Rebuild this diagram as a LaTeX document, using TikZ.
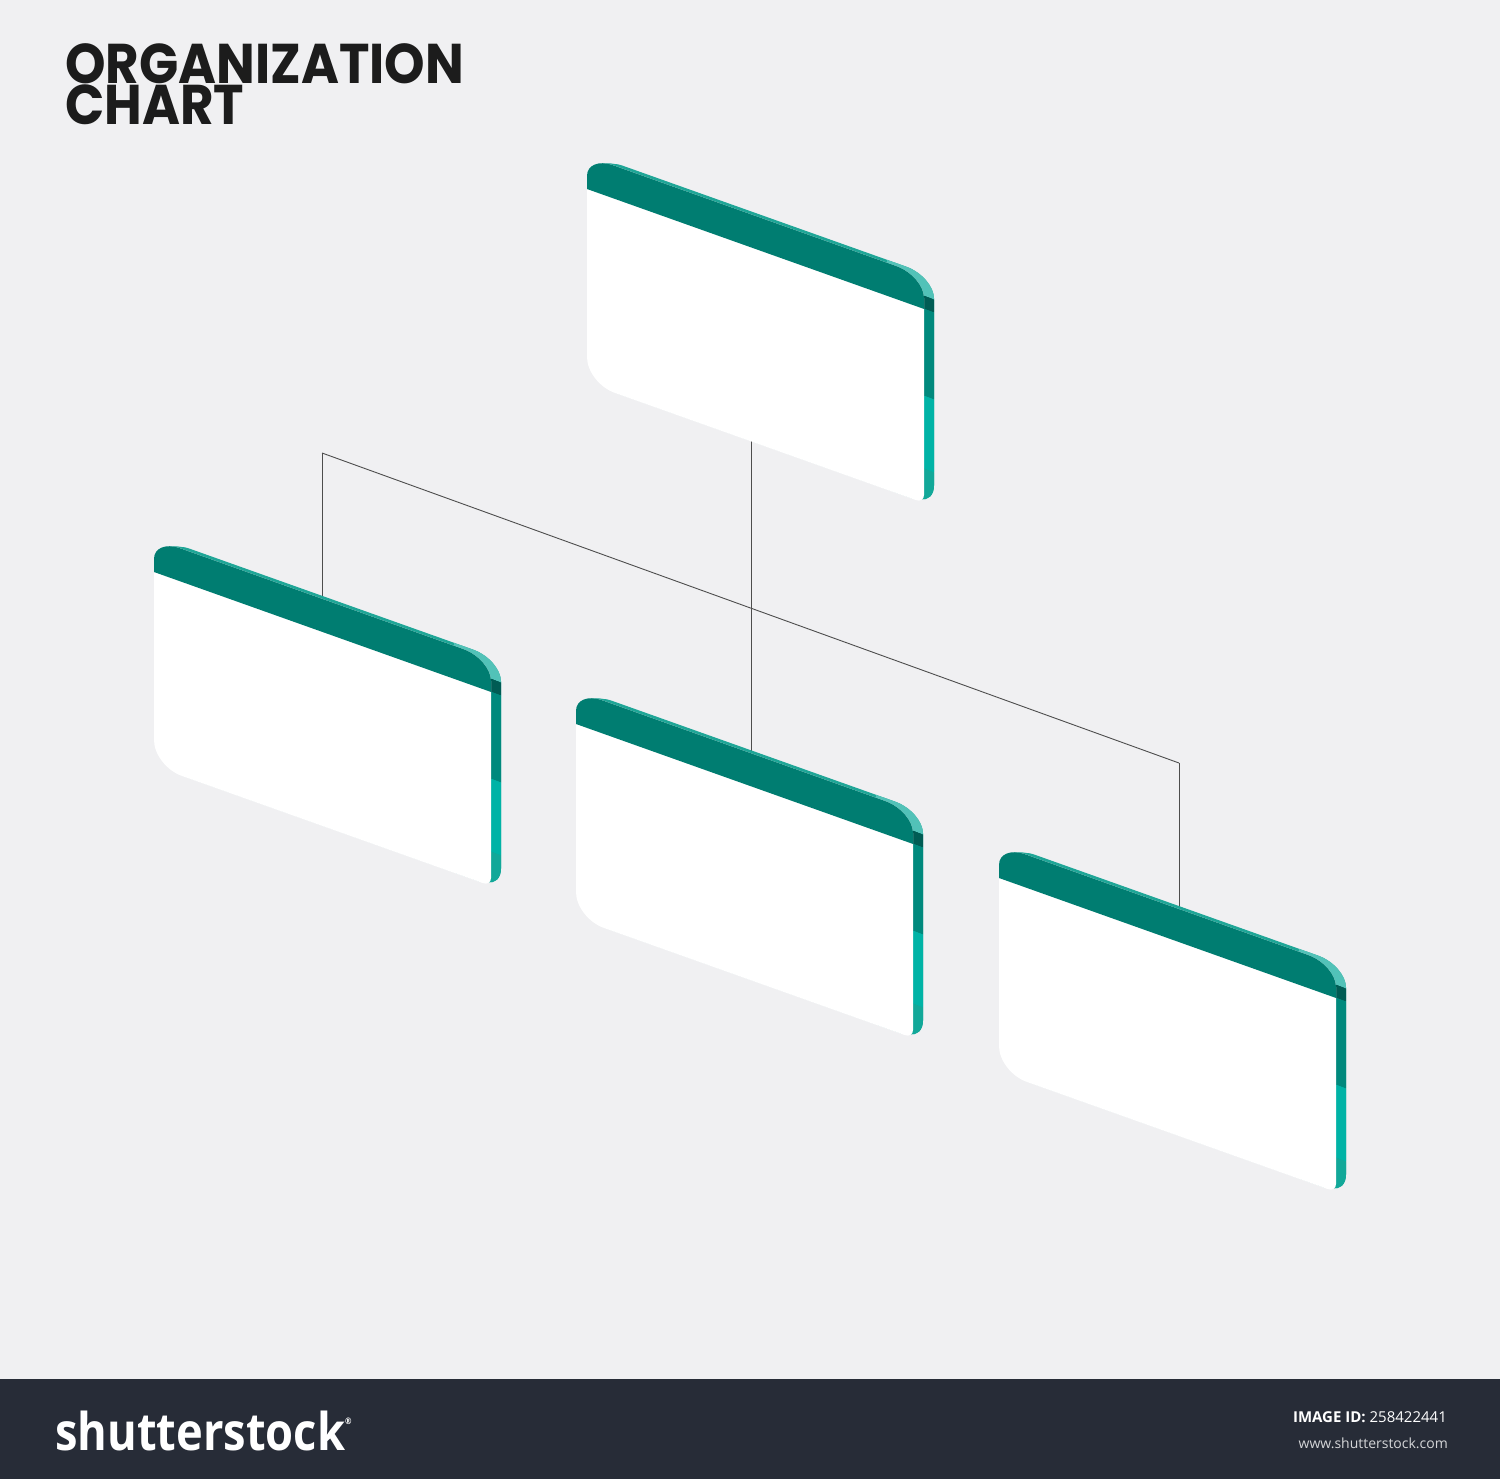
\documentclass[tikz,border=0pt]{standalone}
\usepackage{fontspec}
\newfontfamily\titlefont{Poppins}
\newfontfamily\barfont{Open Sans}
\definecolor{bgc}{HTML}{F0F0F2}
\definecolor{header}{HTML}{007D71}
\definecolor{stripe}{HTML}{1FA697}
\definecolor{cornerlight}{HTML}{52C2B8}
\definecolor{sidedark}{HTML}{005C54}
\definecolor{sidemid}{HTML}{00897D}
\definecolor{sidebright}{HTML}{00B3A6}
\definecolor{sidebottom}{HTML}{12A899}
\definecolor{linec}{HTML}{4D4D4D}
\definecolor{barc}{HTML}{272C37}
\definecolor{titlec}{HTML}{1C1C1C}
\newcommand{\frontpath}{(0,-13) .. controls (0,-24) and (11.6,-33) .. (26,-33) -- (309,-33) .. controls (324.5,-33) and (337,-23.1) .. (337,-11) -- (337,186) .. controls (337,190.4) and (333.4,194) .. (329,194) -- (28,194) .. controls (12.5,194) and (0,182.4) .. (0,168) -- cycle}
\newcommand{\backpath}{(0,-13) .. controls (0,-24) and (11.6,-33) .. (26,-33) -- (309,-33) .. controls (324.5,-33) and (337,-23.1) .. (337,-11) -- (337,176) .. controls (337,185.9) and (330.7,194) .. (323,194) -- (28,194) .. controls (12.5,194) and (0,182.4) .. (0,168) -- cycle}
\newcommand{\sweep}[1]{\foreach \t in {1,0.8,0.6,0.4,0.2}{\fill[#1, shift={(10*\t,-3*\t)}] \backpath;}}
\newcommand{\band}[4]{\begin{scope}\clip (#2,#3) -- (380,#3) -- (380,#4) -- (#2,#4) -- cycle; \sweep{#1}\end{scope}}
\newcommand{\orgcard}[3]{%
  \begin{scope}[shift={(#2,#3)}, x={(1pt,-0.356pt)}, y={(0pt,-1pt)}]
    \coordinate (#1) at (168,80);
    \sweep{stripe}
    \band{cornerlight}{300}{-60}{-13}
    \band{sidedark}{336}{-13}{0}
    \band{sidemid}{330}{0}{87}
    \band{sidebright}{330}{87}{160}
    \band{sidebottom}{300}{160}{220}
    \fill[white] \frontpath;
    \begin{scope}\clip \frontpath; \fill[header] (-5,-45) -- (350,-45) -- (350,0) -- (-5,0) -- cycle;\end{scope}
  \end{scope}}
\tikzset{
  conn/.style={draw=linec, line width=0.9pt},
}
\begin{document}
\begin{tikzpicture}[x=1pt,y=-1pt]
\useasboundingbox (0,0) rectangle (1500,1479);
\fill[bgc] (0,0) rectangle (1500,1479);
% title
\node[anchor=base west, inner sep=0pt, text=titlec, align=left, xscale=0.92,
      font=\titlefont\bfseries\fontsize{56}{40}\selectfont] (title) at (65,125) {ORGANIZATION\\CHART};
% connector coordinates
\coordinate (topB) at (751,430);
\coordinate (midT) at (751,775);
\coordinate (jL) at (322,453);
\coordinate (jR) at (1179,763);
\coordinate (leftT) at (322,615);
\coordinate (rightT) at (1179,925);
\draw[conn] (topB) -- (midT);
\draw[conn] (jL) -- (jR);
\draw[conn] (jL) -- (leftT);
\draw[conn] (jR) -- (rightT);
% cards
\orgcard{cardTop}{587}{189}
\orgcard{cardLeft}{154}{572}
\orgcard{cardMid}{576}{724}
\orgcard{cardRight}{999}{878}
% bottom bar
\fill[barc] (0,1379) rectangle (1500,1479);
\node[anchor=base west, inner sep=0pt, text=white, xscale=0.87, font=\barfont\bfseries\fontsize{52}{52}\selectfont] (logo) at (55,1450) {shutterstock\raisebox{26pt}{\fontsize{9}{9}\selectfont\textregistered}};
\node[anchor=base east, inner sep=0pt, text=white, font=\barfont\fontsize{15}{15}\selectfont] (imgid) at (1447,1422) {{\bfseries IMAGE ID:} 258422441};
\node[anchor=base east, inner sep=0pt, text=white!80!barc, font=\barfont\fontsize{14}{14}\selectfont] (url) at (1448,1448) {www.shutterstock.com};
\end{tikzpicture}
\end{document}
